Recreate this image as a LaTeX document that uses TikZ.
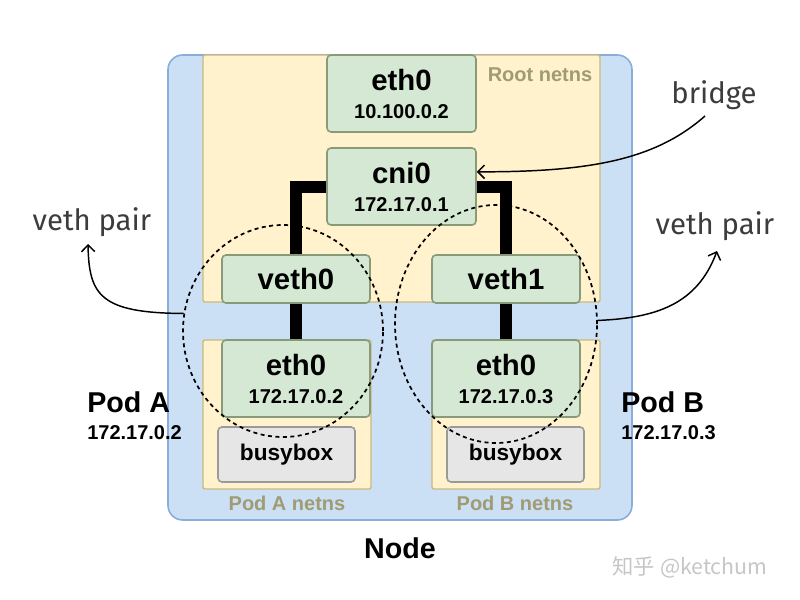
\documentclass[tikz,border=0pt]{standalone}
\usepackage{fontspec}
\setmainfont{Liberation Sans}
\newfontfamily\handfont{Fira Sans}
\newfontfamily\cjkfont{Noto Sans CJK SC}
\usetikzlibrary{shapes.geometric,arrows.meta}
\definecolor{nodeblue}{HTML}{CCE0F5}
\definecolor{nodeedge}{HTML}{8AADDC}
\definecolor{nsyellow}{HTML}{FFF2CC}
\definecolor{nsedge}{HTML}{C9B97E}
\definecolor{ifgreen}{HTML}{D5E8D4}
\definecolor{ifedge}{HTML}{889A7A}
\definecolor{boxgray}{HTML}{E6E6E6}
\definecolor{boxedge}{HTML}{9A9A9A}
\definecolor{nstext}{HTML}{A09B72}
\definecolor{handgray}{HTML}{3C3C3C}
\newcommand{\ipline}[1]{\\{\fontsize{15pt}{17pt}\selectfont #1}}
\tikzset{
  hostbox/.style={draw=nodeedge,fill=nodeblue,line width=1.2pt,rounded corners=11pt,inner sep=0pt},
  nsbox/.style={draw=nsedge,fill=nsyellow,line width=1pt,rounded corners=1.5pt,inner sep=0pt},
  ifbox/.style={draw=ifedge,fill=ifgreen,line width=1.2pt,rounded corners=3pt,inner sep=0pt,
    align=center,font=\bfseries\fontsize{22pt}{21pt}\selectfont},
  appbox/.style={draw=boxedge,fill=boxgray,line width=1.2pt,rounded corners=3pt,inner sep=0pt,
    font=\bfseries\fontsize{17pt}{19pt}\selectfont},
  nslabel/.style={text=nstext,inner sep=0pt,font=\bfseries\fontsize{15pt}{16pt}\selectfont},
  bigname/.style={inner sep=0pt,font=\bfseries\fontsize{21.5pt}{23pt}\selectfont},
  podip/.style={inner sep=0pt,font=\bfseries\fontsize{15pt}{17pt}\selectfont},
  pairring/.style={ellipse,draw,line width=1.3pt,dash pattern=on 3pt off 2.6pt,inner sep=0pt},
  link/.style={line width=9pt,line join=miter},
  hand/.style={text=handgray,inner sep=0pt,font=\handfont\fontsize{22pt}{24pt}\selectfont},
  note/.style={line width=1.1pt,-{Straight Barb[length=5pt,width=10pt]}},
}
\begin{document}
\begin{tikzpicture}[x=0.75pt,y=-0.75pt]
%\draw[step=50,thin,gray](0,0) grid (800,600);
\useasboundingbox (0,0) rectangle (800,600);
\node[hostbox,minimum width=348pt,minimum height=348.75pt] (host) at (400,287.5) {};
\node[nsbox,minimum width=297.75pt,minimum height=185.25pt] (rootns) at (401.5,178.5) {};
\node[nsbox,minimum width=126pt,minimum height=111.75pt] (podAns) at (287,414.5) {};
\node[nsbox,minimum width=126pt,minimum height=111.75pt] (podBns) at (516,414.5) {};
\node[nslabel] (rootlabel) at (540,75) {Root netns};
\node[nslabel] (podAlabel) at (287,503) {Pod A netns};
\node[nslabel] (podBlabel) at (515,503) {Pod B netns};
% root netns
\node[ifbox,minimum width=111.75pt,minimum height=57.75pt] (eth0) at (401.5,93.5) {eth0\ipline{10.100.0.2}};
\node[ifbox,minimum width=111.75pt,minimum height=57.75pt] (cni0) at (401.5,186.5) {cni0\ipline{172.17.0.1}};
\node[ifbox,minimum width=111pt,minimum height=36pt] (veth0) at (296,279) {veth0};
\node[ifbox,minimum width=111pt,minimum height=36pt] (veth1) at (506,279) {veth1};
% pods
\node[ifbox,minimum width=111pt,minimum height=57.75pt] (podAeth) at (296,378.5) {eth0\ipline{172.17.0.2}};
\node[ifbox,minimum width=111pt,minimum height=57.75pt] (podBeth) at (506,378.5) {eth0\ipline{172.17.0.3}};
\node[appbox,minimum width=102.75pt,minimum height=41.25pt] (busyA) at (286.5,454.5) {busybox};
\node[appbox,minimum width=102.75pt,minimum height=41.25pt] (busyB) at (515.5,454.5) {busybox};
\draw[link] (cni0.west) -| (veth0.north);
\draw[link] (cni0.east) -| (veth1.north);
\draw[link] (veth0) -- (podAeth);
\draw[link] (veth1) -- (podBeth);
\node[pairring,minimum width=150pt,minimum height=159pt] (pairA) at (283,331) {};
\node[pairring,minimum width=151.5pt,minimum height=178.5pt] (pairB) at (496,324) {};
% outside labels
\node[bigname] (host label) at (400,548) {Node};
\node[bigname,anchor=west] (podA) at (87,402) {Pod A};
\node[podip,anchor=west] (podAip) at (87,433) {172.17.0.2};
\node[bigname,anchor=west] (podB) at (621,402) {Pod B};
\node[podip,anchor=west] (podBip) at (621,433) {172.17.0.3};
\node[hand] (lpair) at (92,222) {veth pair};
\node[hand] (bridge) at (714,95) {bridge};
\node[hand] (rpair) at (715,226) {veth pair};
\coordinate (lpairtip) at (88,244);
\coordinate (rpairtip) at (717,251);
\coordinate (bridgefoot) at (705,116);
\draw[note] (pairA.170) .. controls (100,313) and (89,295) .. (lpairtip);
\draw[note] (pairB.2) .. controls (655,318) and (697,305) .. (rpairtip);
\draw[note] (bridgefoot) .. controls (655,160) and (590,172) .. ([yshift=11pt]cni0.east);
\node[text=gray!45,inner sep=0pt,font=\cjkfont\fontsize{16pt}{18pt}\selectfont] (mark) at (690,567) {知乎 @ketchum};
\end{tikzpicture}
\end{document}
